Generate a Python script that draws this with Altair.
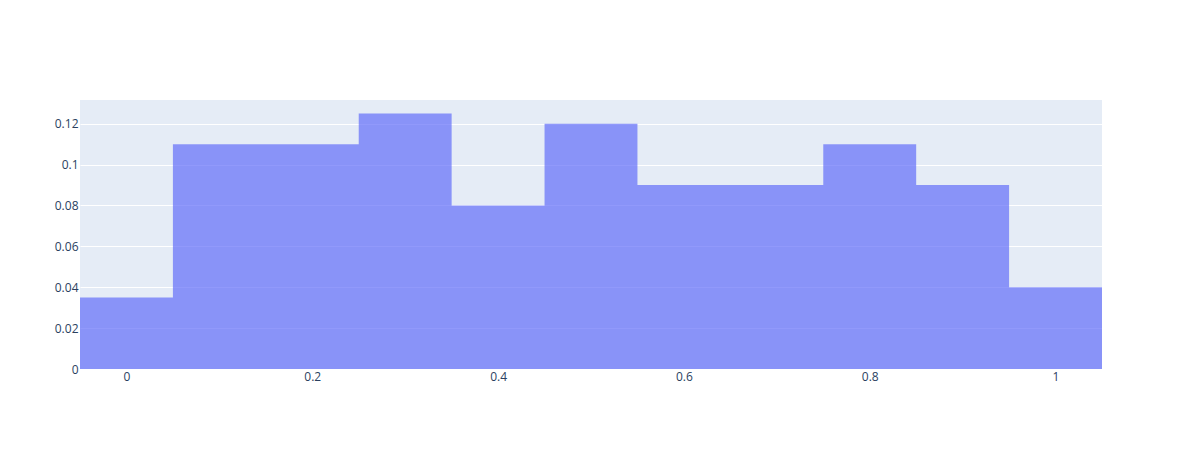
import altair as alt
import pandas as pd

bin_centers = [0.0, 0.1, 0.2, 0.3, 0.4, 0.5, 0.6, 0.7, 0.8, 0.9, 1.0]
probabilities = [0.035, 0.11, 0.11, 0.125, 0.08, 0.12, 0.09, 0.09, 0.11, 0.09, 0.04]
bin_width = 0.1
x_ticks = [0, 0.2, 0.4, 0.6, 0.8, 1.0]
y_ticks = [0, 0.02, 0.04, 0.06, 0.08, 0.1, 0.12]

# left edges of every bin, plus the right edge of the last bin so the step closes
edges = [c - bin_width / 2 for c in bin_centers] + [bin_centers[-1] + bin_width / 2]
heights = probabilities + [probabilities[-1]]
df = pd.DataFrame({"edge": edges, "prob": heights})

font = "Open Sans"
txt = "#2a3f5f"

chart = alt.Chart(df).mark_area(
    color="#636efa", opacity=0.7, interpolate="step-after"
).encode(
    x=alt.X("edge:Q", scale=alt.Scale(domain=[-0.05, 1.05], nice=False, zero=False),
            axis=alt.Axis(values=x_ticks, format="~g", grid=False, domain=False, ticks=False,
                          labelFont=font, labelFontSize=12, labelColor=txt, labelPadding=2,
                          title=None, labelFlush=False)),
    y=alt.Y("prob:Q", scale=alt.Scale(domain=[0, 0.1316], nice=False),
            axis=alt.Axis(values=y_ticks, format="~g", grid=True, gridColor="white", gridWidth=1,
                          domain=False, ticks=False, labelFont=font, labelFontSize=12,
                          labelColor=txt, labelPadding=2, title=None)),
).properties(
    width=1022, height=269,
    padding={"left": 72, "top": 92, "right": 72, "bottom": 73},
    autosize=alt.AutoSizeParams(type="none"),
).configure(
    background="white",
    view=alt.ViewConfig(fill="#e5ecf6", stroke=None),
)

chart.save("out.html", embed_options={"renderer": "svg", "actions": False})
